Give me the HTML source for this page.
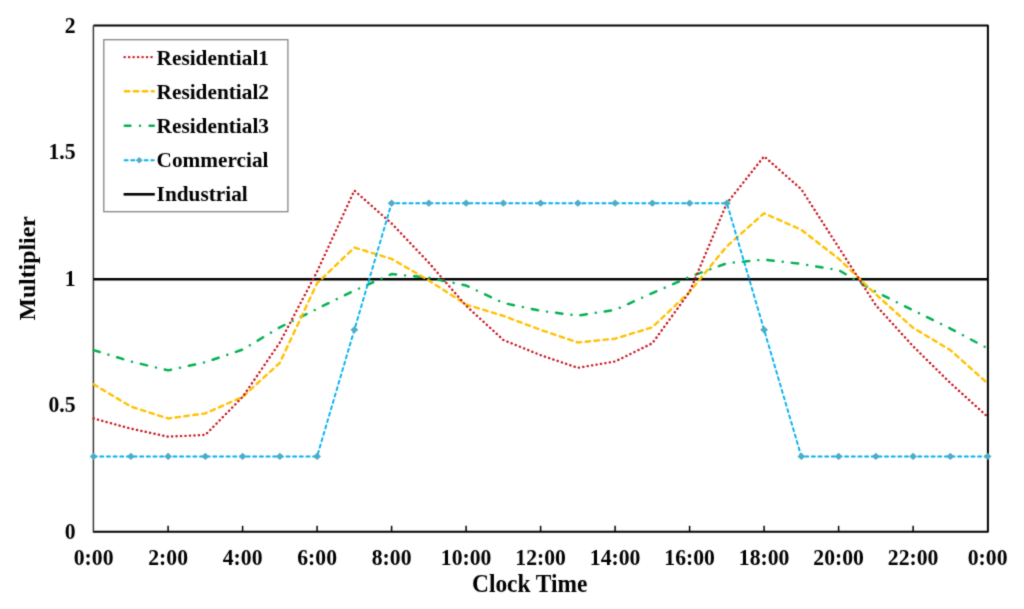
<!DOCTYPE html>
<html lang="en"><head><meta charset="utf-8"><title>Multiplier vs Clock Time</title>
<style>
html,body{margin:0;padding:0;background:#fff;}
body{width:1024px;height:609px;overflow:hidden;}
svg{display:block;}
text{font-family:"Liberation Serif","Times New Roman",serif;font-weight:bold;fill:#000;}
.tk{font-size:21.7px;}
.ax{font-size:24px;}
.lg{font-size:21.3px;}
</style></head><body>
<svg width="1024" height="609" viewBox="0 0 1024 609">
<defs><filter id="soft" x="0" y="0" width="1024" height="609" filterUnits="userSpaceOnUse" color-interpolation-filters="sRGB"><feConvolveMatrix order="3" kernelMatrix="0.03 0.09 0.03 0.09 0.52 0.09 0.03 0.09 0.03" divisor="1" edgeMode="duplicate" preserveAlpha="false"/></filter></defs>
<g filter="url(#soft)">
<rect width="1024" height="609" fill="#fff"/>

<path d="M93.40 25.60L987.90 25.60L987.90 531.80L93.40 531.80" fill="none" stroke="#000" stroke-width="2.0" stroke-linejoin="round"/>
<line x1="93.40" y1="25.60" x2="93.40" y2="532.70" stroke="#333" stroke-width="1.45"/>
<line x1="168.10" y1="531.80" x2="168.10" y2="525.80" stroke="#000" stroke-width="1.5"/>
<line x1="242.60" y1="531.80" x2="242.60" y2="525.80" stroke="#000" stroke-width="1.5"/>
<line x1="317.10" y1="531.80" x2="317.10" y2="525.80" stroke="#000" stroke-width="1.5"/>
<line x1="391.60" y1="531.80" x2="391.60" y2="525.80" stroke="#000" stroke-width="1.5"/>
<line x1="466.10" y1="531.80" x2="466.10" y2="525.80" stroke="#000" stroke-width="1.5"/>
<line x1="540.60" y1="531.80" x2="540.60" y2="525.80" stroke="#000" stroke-width="1.5"/>
<line x1="615.10" y1="531.80" x2="615.10" y2="525.80" stroke="#000" stroke-width="1.5"/>
<line x1="689.60" y1="531.80" x2="689.60" y2="525.80" stroke="#000" stroke-width="1.5"/>
<line x1="764.10" y1="531.80" x2="764.10" y2="525.80" stroke="#000" stroke-width="1.5"/>
<line x1="838.60" y1="531.80" x2="838.60" y2="525.80" stroke="#000" stroke-width="1.5"/>
<line x1="913.10" y1="531.80" x2="913.10" y2="525.80" stroke="#000" stroke-width="1.5"/>
<polyline points="93.60,279.18 130.85,279.18 168.10,279.18 205.35,279.18 242.60,279.18 279.85,279.18 317.10,279.18 354.35,279.18 391.60,279.18 428.85,279.18 466.10,279.18 503.35,279.18 540.60,279.18 577.85,279.18 615.10,279.18 652.35,279.18 689.60,279.18 726.85,279.18 764.10,279.18 801.35,279.18 838.60,279.18 875.85,279.18 913.10,279.18 950.35,279.18 987.60,279.18" fill="none" stroke="#000" stroke-width="2.6"/>
<polyline points="93.60,350.09 130.85,361.49 168.10,370.35 205.35,362.25 242.60,349.59 279.85,327.30 317.10,308.81 354.35,290.57 391.60,274.11 428.85,277.66 466.10,285.51 503.35,302.98 540.60,310.83 577.85,315.65 615.10,309.82 652.35,293.11 689.60,276.90 726.85,263.22 764.10,259.67 801.35,263.98 838.60,270.06 875.85,291.84 913.10,310.33 950.35,328.56 987.60,348.32" fill="none" stroke="#00b050" stroke-width="2.5" stroke-dasharray="6.4,9.1,0.01,9.1" stroke-linecap="round" stroke-linejoin="round"/>
<polyline points="93.60,384.28 130.85,406.57 168.10,418.48 205.35,413.41 242.60,396.95 279.85,362.76 317.10,283.23 354.35,247.52 391.60,258.91 428.85,280.44 466.10,304.50 503.35,315.90 540.60,329.83 577.85,342.49 615.10,338.69 652.35,327.30 689.60,291.84 726.85,246.25 764.10,213.32 801.35,229.79 838.60,258.66 875.85,294.37 913.10,327.80 950.35,350.09 987.60,383.27" fill="none" stroke="#ffc000" stroke-width="2.4" stroke-dasharray="4.5,4.5" stroke-linecap="round" stroke-linejoin="round"/>
<polyline points="93.60,418.48 130.85,428.61 168.10,436.71 205.35,434.94 242.60,396.95 279.85,342.49 317.10,271.58 354.35,190.53 391.60,223.45 428.85,262.71 466.10,305.77 503.35,339.96 540.60,355.16 577.85,367.82 615.10,361.49 652.35,343.25 689.60,291.84 726.85,203.19 764.10,156.34 801.35,189.26 838.60,247.26 875.85,305.26 913.10,346.29 950.35,383.02 987.60,416.70" fill="none" stroke="#c4141e" stroke-width="2.4" stroke-dasharray="0.15,4.33" stroke-linecap="round" stroke-linejoin="round"/>
<polyline points="93.60,456.47 130.85,456.47 168.10,456.47 205.35,456.47 242.60,456.47 279.85,456.47 317.10,456.47 354.35,329.83 391.60,203.19 428.85,203.19 466.10,203.19 503.35,203.19 540.60,203.19 577.85,203.19 615.10,203.19 652.35,203.19 689.60,203.19 726.85,203.19 764.10,329.83 801.35,456.47 838.60,456.47 875.85,456.47 913.10,456.47 950.35,456.47 987.60,456.47" fill="none" stroke="#00b0f0" stroke-width="1.9" stroke-dasharray="3.1,3.55" stroke-linecap="round" stroke-linejoin="round"/>
<path d="M89.71 456.47L93.60 452.87L97.49 456.47L93.60 460.07Z" fill="#4bacc6"/>
<path d="M126.96 456.47L130.85 452.87L134.74 456.47L130.85 460.07Z" fill="#4bacc6"/>
<path d="M164.21 456.47L168.10 452.87L171.99 456.47L168.10 460.07Z" fill="#4bacc6"/>
<path d="M201.46 456.47L205.35 452.87L209.24 456.47L205.35 460.07Z" fill="#4bacc6"/>
<path d="M238.71 456.47L242.60 452.87L246.49 456.47L242.60 460.07Z" fill="#4bacc6"/>
<path d="M275.96 456.47L279.85 452.87L283.74 456.47L279.85 460.07Z" fill="#4bacc6"/>
<path d="M313.21 456.47L317.10 452.87L320.99 456.47L317.10 460.07Z" fill="#4bacc6"/>
<path d="M350.46 329.83L354.35 326.23L358.24 329.83L354.35 333.43Z" fill="#4bacc6"/>
<path d="M387.71 203.19L391.60 199.59L395.49 203.19L391.60 206.79Z" fill="#4bacc6"/>
<path d="M424.96 203.19L428.85 199.59L432.74 203.19L428.85 206.79Z" fill="#4bacc6"/>
<path d="M462.21 203.19L466.10 199.59L469.99 203.19L466.10 206.79Z" fill="#4bacc6"/>
<path d="M499.46 203.19L503.35 199.59L507.24 203.19L503.35 206.79Z" fill="#4bacc6"/>
<path d="M536.71 203.19L540.60 199.59L544.49 203.19L540.60 206.79Z" fill="#4bacc6"/>
<path d="M573.96 203.19L577.85 199.59L581.74 203.19L577.85 206.79Z" fill="#4bacc6"/>
<path d="M611.21 203.19L615.10 199.59L618.99 203.19L615.10 206.79Z" fill="#4bacc6"/>
<path d="M648.46 203.19L652.35 199.59L656.24 203.19L652.35 206.79Z" fill="#4bacc6"/>
<path d="M685.71 203.19L689.60 199.59L693.49 203.19L689.60 206.79Z" fill="#4bacc6"/>
<path d="M722.96 203.19L726.85 199.59L730.74 203.19L726.85 206.79Z" fill="#4bacc6"/>
<path d="M760.21 329.83L764.10 326.23L767.99 329.83L764.10 333.43Z" fill="#4bacc6"/>
<path d="M797.46 456.47L801.35 452.87L805.24 456.47L801.35 460.07Z" fill="#4bacc6"/>
<path d="M834.71 456.47L838.60 452.87L842.49 456.47L838.60 460.07Z" fill="#4bacc6"/>
<path d="M871.96 456.47L875.85 452.87L879.74 456.47L875.85 460.07Z" fill="#4bacc6"/>
<path d="M909.21 456.47L913.10 452.87L916.99 456.47L913.10 460.07Z" fill="#4bacc6"/>
<path d="M946.46 456.47L950.35 452.87L954.24 456.47L950.35 460.07Z" fill="#4bacc6"/>
<path d="M983.71 456.47L987.60 452.87L991.49 456.47L987.60 460.07Z" fill="#4bacc6"/>
<text class="tk" transform="translate(75.6,539.05) scale(1,1.08)" text-anchor="end">0</text>
<text class="tk" transform="translate(75.6,412.41) scale(1,1.08)" text-anchor="end">0.5</text>
<text class="tk" transform="translate(75.6,285.78) scale(1,1.08)" text-anchor="end">1</text>
<text class="tk" transform="translate(75.6,159.14) scale(1,1.08)" text-anchor="end">1.5</text>
<text class="tk" transform="translate(75.6,32.50) scale(1,1.08)" text-anchor="end">2</text>
<text class="tk" transform="translate(93.60,564.8) scale(1,1.08)" text-anchor="middle">0:00</text>
<text class="tk" transform="translate(168.10,564.8) scale(1,1.08)" text-anchor="middle">2:00</text>
<text class="tk" transform="translate(242.60,564.8) scale(1,1.08)" text-anchor="middle">4:00</text>
<text class="tk" transform="translate(317.10,564.8) scale(1,1.08)" text-anchor="middle">6:00</text>
<text class="tk" transform="translate(391.60,564.8) scale(1,1.08)" text-anchor="middle">8:00</text>
<text class="tk" transform="translate(466.10,564.8) scale(1,1.08)" text-anchor="middle">10:00</text>
<text class="tk" transform="translate(540.60,564.8) scale(1,1.08)" text-anchor="middle">12:00</text>
<text class="tk" transform="translate(615.10,564.8) scale(1,1.08)" text-anchor="middle">14:00</text>
<text class="tk" transform="translate(689.60,564.8) scale(1,1.08)" text-anchor="middle">16:00</text>
<text class="tk" transform="translate(764.10,564.8) scale(1,1.08)" text-anchor="middle">18:00</text>
<text class="tk" transform="translate(838.60,564.8) scale(1,1.08)" text-anchor="middle">20:00</text>
<text class="tk" transform="translate(913.10,564.8) scale(1,1.08)" text-anchor="middle">22:00</text>
<text class="tk" transform="translate(987.60,564.8) scale(1,1.08)" text-anchor="middle">0:00</text>
<text class="ax" transform="translate(529.7,591.6) scale(0.975,1.03)" text-anchor="middle">Clock Time</text>
<text class="ax" transform="translate(35.3,268.4) rotate(-90) scale(0.99,1.0)" text-anchor="middle">Multiplier</text>
<rect x="103.8" y="39.7" width="184.1" height="172" fill="#fff" stroke="#858585" stroke-width="1.3"/>
<line x1="124.6" y1="57.1" x2="154.8" y2="57.1" stroke="#c4141e" stroke-width="2.4" stroke-dasharray="0.15,4.33" stroke-linecap="round" stroke-linejoin="round"/>
<line x1="124.8" y1="91.3" x2="153.8" y2="91.3" stroke="#ffc000" stroke-width="2.4" stroke-dasharray="4.5,4.5" stroke-linecap="round" stroke-linejoin="round"/>
<line x1="124.8" y1="125.7" x2="153.8" y2="125.7" stroke="#00b050" stroke-width="2.5" stroke-dasharray="5.6,9.6,0.01,9.6" stroke-linecap="round"/>
<line x1="124.6" y1="160.2" x2="153.8" y2="160.2" stroke="#00b0f0" stroke-width="1.9" stroke-dasharray="3.1,3.55" stroke-linecap="round" stroke-linejoin="round"/>
<path d="M135.74 160.20L139.20 157.00L142.66 160.20L139.20 163.40Z" fill="#4bacc6"/>
<line x1="123.6" y1="194.3" x2="154.8" y2="194.3" stroke="#000" stroke-width="2.6"/>
<text class="lg" transform="translate(156.6,64.90) scale(1,1.03)">Residential1</text>
<text class="lg" transform="translate(156.6,98.90) scale(1,1.03)">Residential2</text>
<text class="lg" transform="translate(156.6,132.80) scale(1,1.03)">Residential3</text>
<text class="lg" transform="translate(156.6,167.30) scale(1,1.03)">Commercial</text>
<text class="lg" transform="translate(156.6,201.30) scale(1,1.03)">Industrial</text>
</g></svg></body></html>
